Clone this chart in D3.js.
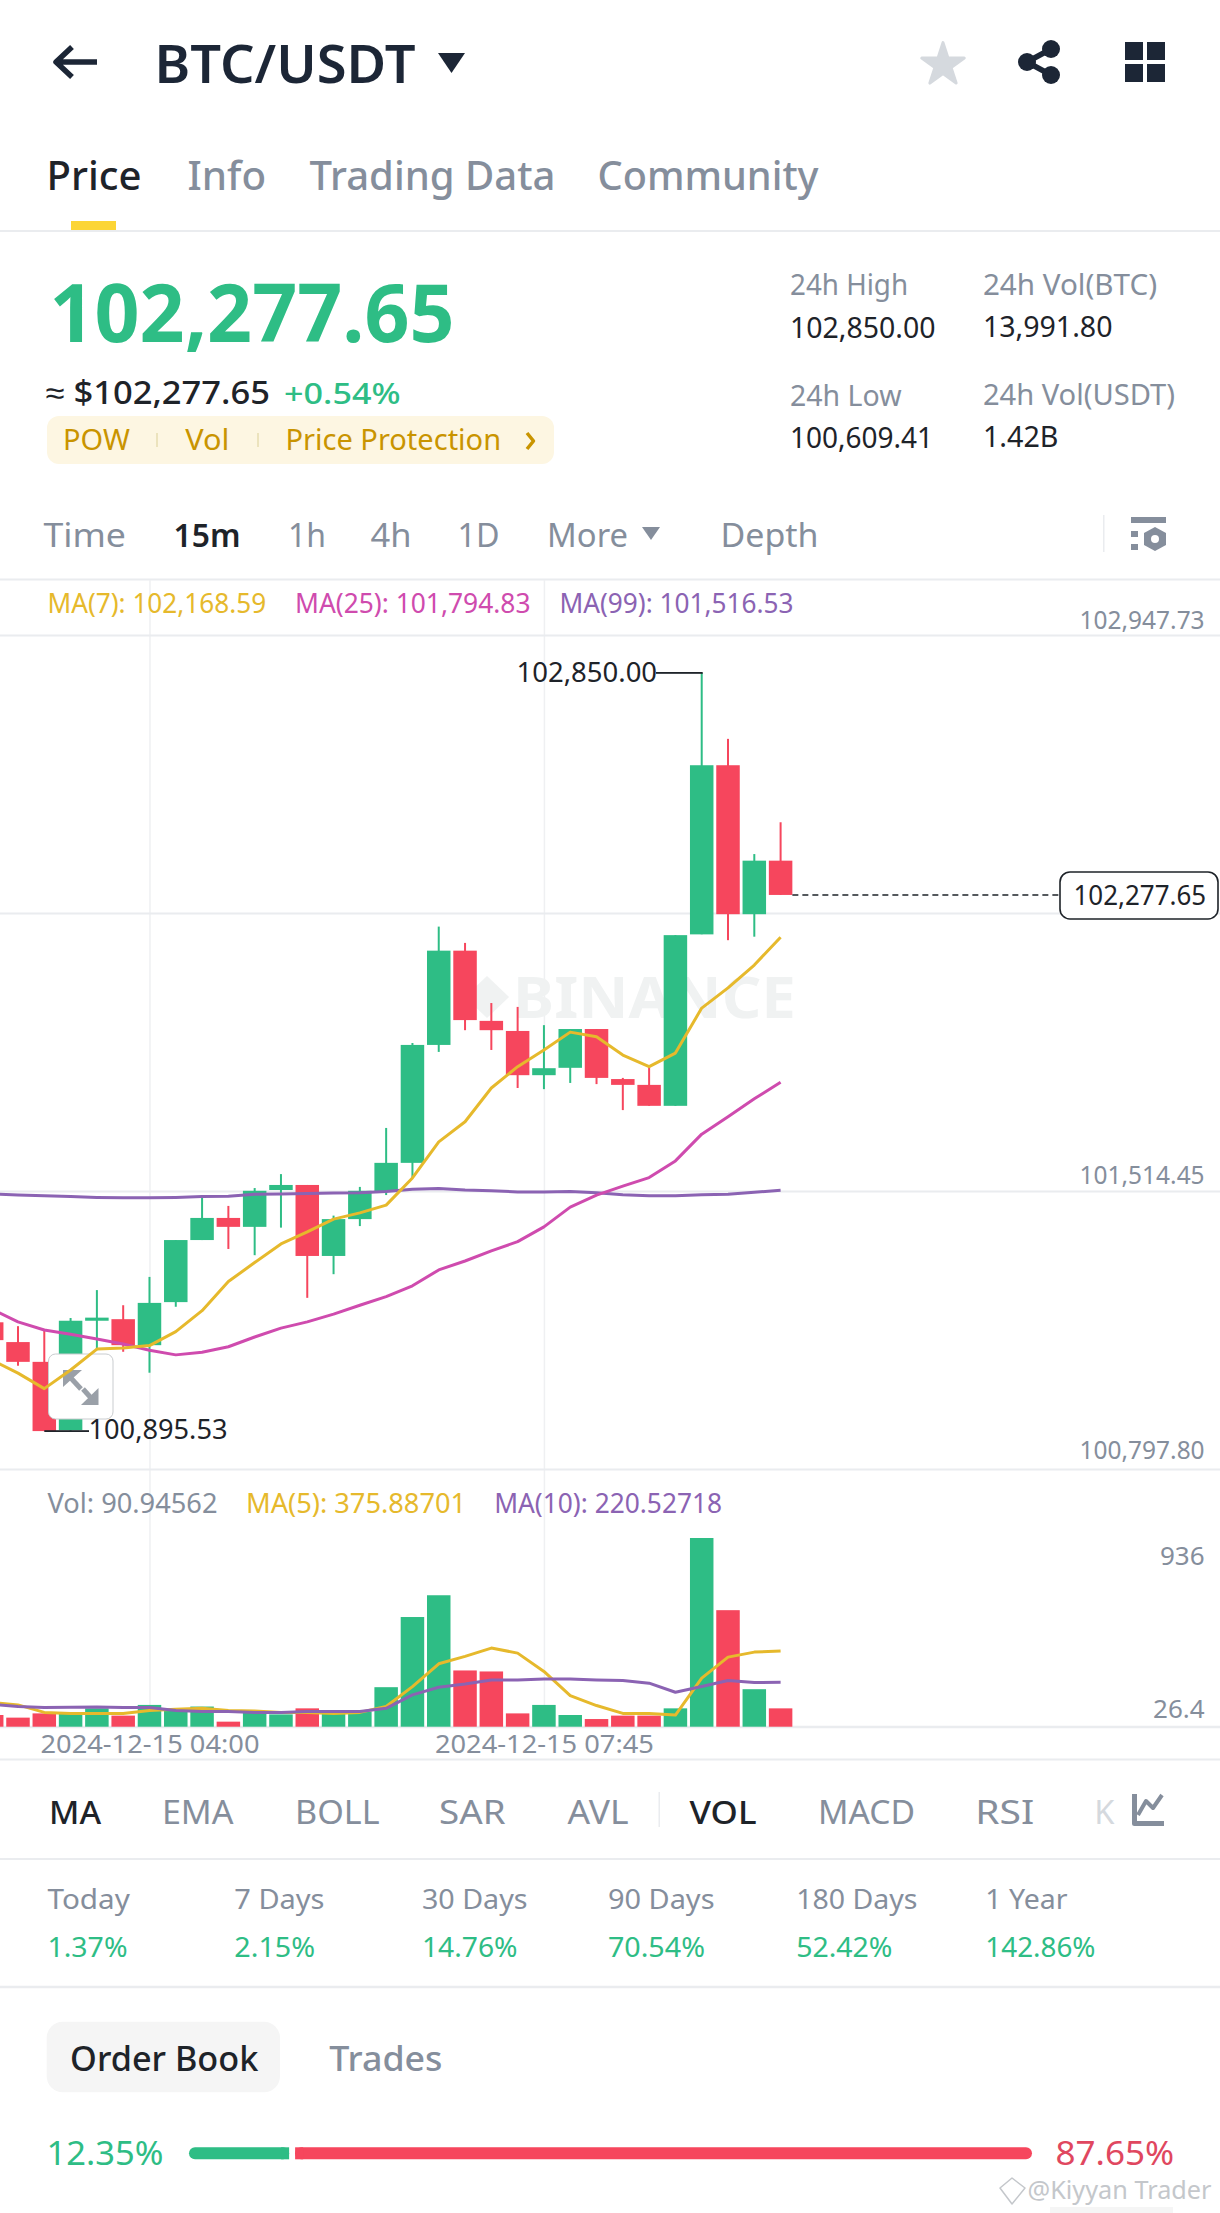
<!DOCTYPE html>
<html>
<head>
<meta charset="utf-8">
<title>BTC/USDT</title>
<script src="https://cdn.jsdelivr.net/npm/d3@7"></script>
<style>
  html, body { margin: 0; padding: 0; background: #fff; }
  svg { display: block; }
  text { font-family: "Noto Sans", sans-serif; }
</style>
</head>
<body>
<svg id="chart" width="1220" height="2213"></svg>
<script>
// 15m candles, first one is cut by the left edge
var times = ['02:30', '02:45', '03:00', '03:15', '03:30', '03:45', '04:00', '04:15', '04:30', '04:45', '05:00',
  '05:15', '05:30', '05:45', '06:00', '06:15', '06:30', '06:45', '07:00', '07:15', '07:30', '07:45', '08:00',
  '08:15', '08:30', '08:45', '09:00', '09:15', '09:30', '09:45', '10:00'].map(function (t) { return '2024-12-15 ' + t; });
var opens = [101176, 101125, 101074, 100898, 101180, 101184, 101117, 101228, 101388, 101445, 101422, 101517, 101530,
  101347, 101442, 101512, 101587, 101891, 102134, 101953, 101927, 101813, 101832, 101932, 101803, 101788, 101734,
  102176, 102612, 102228, 102366];
var highs = [101200, 101166, 101159, 101187, 101259, 101220, 101293, 101388, 101500, 101476, 101522, 101558, 101530,
  101451, 101525, 101677, 101896, 102196, 102154, 101999, 101989, 101942, 101932, 101932, 101806, 101835, 102174,
  102850, 102680, 102383, 102465];
var lows = [101120, 101064, 100895.53, 100896, 101104, 101100, 101046, 101216, 101388, 101365, 101349, 101420, 101239,
  101300, 101424, 101504, 101548, 101873, 101929, 101878, 101780, 101777, 101793, 101790, 101723, 101734, 101734,
  102176, 102161, 102170, 102277.65];
var closes = [101130, 101074, 100895.53, 101180, 101188, 101117, 101226, 101388, 101445, 101422, 101515, 101530, 101347,
  101442, 101515, 101587, 101891, 102134, 101955, 101929, 101813, 101831, 101932, 101806, 101788, 101734, 102174,
  102612, 102228, 102366, 102277.65];

var ma7 = [101079, 101045, 101005, 101053, 101107, 101110, 101116, 101152, 101206, 101281, 101330, 101378, 101409,
  101442, 101458, 101478, 101548, 101641, 101693, 101780, 101835, 101878, 101924, 101912, 101865, 101835, 101870,
  101986, 102038, 102097, 102168.59];
var ma25 = [101210, 101177, 101156, 101145, 101133, 101120, 101104, 101092, 101099, 101113, 101138, 101161, 101177,
  101197, 101220, 101242, 101270, 101311, 101334, 101360, 101384, 101422, 101473, 101504, 101527, 101549, 101592,
  101661, 101706, 101752, 101794.83];
var ma99 = [101507, 101504, 101502, 101500, 101498, 101497, 101497, 101498, 101500, 101501, 101506, 101507, 101508,
  101509, 101510, 101513, 101519, 101521, 101517, 101515, 101512, 101512, 101513, 101510, 101505, 101502, 101502,
  101505, 101506, 101511, 101516.53];

var volumes = [58, 45, 66, 71, 91, 55, 108, 80, 100, 25, 75, 61, 91, 71, 75, 196, 544, 652, 279, 274, 66, 108, 58, 38,
  55, 55, 91, 936, 578, 186, 90.94562];
var volMa5 = [121, 108, 71, 66, 66, 66, 80, 86, 91, 80, 78, 71, 71, 66, 71, 100, 199, 312, 349, 390, 365, 274, 154, 105,
  66, 66, 58, 241, 345, 370, 375.88701];
var volMa10 = [111, 100, 95, 96, 98, 95, 95, 80, 75, 75, 71, 71, 75, 75, 75, 91, 158, 196, 212, 232, 232, 236, 236, 232,
  229, 216, 171, 199, 229, 219, 220.52718];

var priceTicks = [102947.73, 102231.09, 101514.45, 100797.80];
var volTicks = [936, 26.4];
var timeTicks = ['2024-12-15 04:00', '2024-12-15 07:45'];
var lastPrice = 102277.65;
var bookBuy = 12.35;

var periodNames = ['Today', '7 Days', '30 Days', '90 Days', '180 Days', '1 Year'];
var periodValues = ['1.37%', '2.15%', '14.76%', '70.54%', '52.42%', '142.86%'];

var GREEN = '#2ebd85', RED = '#f6465d', DARK = '#1e2329', NAVY = '#1c2636', GREY = '#858e9c', GRID = '#eff0f2';
var YELLOW = '#e6b92c', PINK = '#cf4bae', PURPLE = '#8b63b3';

var svg = d3.select('#chart');

var x = d3.scalePoint().domain(times).range([-8.3, 780.6]);
var y = d3.scaleLinear().domain([priceTicks[3], priceTicks[0]]).range([1469, 635]);
var yVol = d3.scaleLinear().domain([0, 936]).range([1726.7, 1538]);

var BODY = 23.5;

// x1, x2 - ink edges of the text, baseline is yy
function label(txt, x1, x2, yy, size, color, weight) {
  return svg.append('text').text(txt)
    .attr('x', x1 - 1.5).attr('y', yy)
    .attr('font-size', size)
    .attr('font-weight', weight || 400)
    .attr('fill', color)
    .attr('textLength', x2 - x1 + 3)
    .attr('lengthAdjust', 'spacingAndGlyphs');
}

function hline(yy, x1, x2, w, color) {
  svg.append('rect').attr('x', x1).attr('y', yy - w / 2).attr('width', x2 - x1).attr('height', w).attr('fill', color || '#eaecef');
}

function icon(d, stroke, w, fill) {
  return svg.append('path').attr('d', d)
    .attr('fill', fill || 'none')
    .attr('stroke', stroke || 'none')
    .attr('stroke-width', w || 0)
    .attr('stroke-linecap', 'butt')
    .attr('stroke-linejoin', 'round');
}

/* --- header --- */
icon('M97 62H58M72 47L56 62L72 77', NAVY, 5.5);
label('BTC/USDT', 156, 414, 83, 52, NAVY, 600);
icon('M438 53H465L451.5 73Z', null, 0, NAVY);
svg.append('path').attr('d', d3.symbol().type(d3.symbolStar).size(560)())
  .attr('transform', 'translate(943,65)').attr('fill', '#d5d9de')
  .attr('stroke', '#d5d9de').attr('stroke-width', 3).attr('stroke-linejoin', 'round');
icon('M1051 49L1027 62L1051 75', NAVY, 5.5);
[[1051, 49], [1027, 62], [1051, 75]].forEach(function (c) {
  svg.append('circle').attr('cx', c[0]).attr('cy', c[1]).attr('r', 9).attr('fill', NAVY);
});
[[1125, 42], [1147, 42], [1125, 64], [1147, 64]].forEach(function (c) {
  svg.append('rect').attr('x', c[0]).attr('y', c[1]).attr('width', 18).attr('height', 18).attr('fill', NAVY);
});

label('Price', 48, 140, 190, 40, DARK, 500);
label('Info', 189, 264.6, 190, 40, GREY, 500);
label('Trading Data', 311, 554, 190, 40, GREY, 500);
label('Community', 599, 817, 190, 40, GREY, 500);
svg.append('rect').attr('x', 71).attr('y', 221).attr('width', 45).attr('height', 9).attr('fill', '#fcd535');
hline(231, 0, 1220, 2);

/* --- ticker --- */
label('102,277.65', 51, 453, 341.7, 80, GREEN, 700);
label('≈ $102,277.65', 47, 268.5, 404, 32, DARK, 500);
label('+0.54%', 285.6, 399, 404, 29, GREEN, 500);
svg.append('rect').attr('x', 47).attr('y', 416).attr('width', 507).attr('height', 48).attr('rx', 12).attr('fill', '#fdf6e2');
label('POW', 64.6, 128.4, 450, 29, '#c99400');
label('Vol', 186.8, 228, 450, 29, '#c99400');
label('Price Protection', 287, 499.6, 450, 29, '#c99400');
hline(440, 156, 158, 14, '#ece3bd');
hline(440, 257, 259, 14, '#ece3bd');
icon('M527 433L533.5 441L527 449', '#c99400', 3.5);

label('24h High', 791.5, 906.6, 295, 29, GREY);
label('102,850.00', 791.5, 934, 338, 29, DARK);
label('24h Vol(BTC)', 984.4, 1155.6, 295, 29, GREY);
label('13,991.80', 984.4, 1111, 336.7, 29, DARK);
label('24h Low', 791.5, 900, 405.7, 29, GREY);
label('100,609.41', 791.5, 931.5, 448, 29, DARK);
label('24h Vol(USDT)', 984.4, 1173.5, 405, 29, GREY);
label('1.42B', 984.4, 1057, 446.7, 29, DARK);

/* --- interval row --- */
label('Time', 45, 124.5, 547.3, 33, GREY);
label('15m', 175, 239, 547.3, 33, DARK, 600);
label('1h', 289.5, 324.5, 547.3, 33, GREY);
label('4h', 372, 410, 547.3, 33, GREY);
label('1D', 459, 498, 547.3, 33, GREY);
label('More', 548.6, 626.5, 547.3, 33, GREY);
icon('M642 527H660L651 540Z', null, 0, GREY);
label('Depth', 722, 817, 547.3, 33, GREY);
svg.append('rect').attr('x', 1103).attr('y', 515).attr('width', 1.5).attr('height', 37).attr('fill', '#eaecef');
svg.append('rect').attr('x', 1131).attr('y', 517).attr('width', 35).attr('height', 6).attr('fill', GREY);
svg.append('rect').attr('x', 1131).attr('y', 531).attr('width', 7).attr('height', 6).attr('fill', GREY);
svg.append('rect').attr('x', 1131).attr('y', 544).attr('width', 7).attr('height', 6).attr('fill', GREY);
icon('M1155 527L1166 533V545L1155 551L1144 545V533Z', null, 0, GREY);
svg.append('circle').attr('cx', 1155).attr('cy', 539).attr('r', 4).attr('fill', '#fff');
hline(579.5, 0, 1220, 2);

/* --- grid, axes --- */
var gridX = svg.append('g').attr('transform', 'translate(0,580)')
  .call(d3.axisBottom(x).tickValues(timeTicks).tickSize(1146.7).tickFormat(''));
gridX.select('.domain').remove();
gridX.selectAll('line').attr('stroke', GRID).attr('stroke-width', 1.5);

var axisPrice = svg.append('g').attr('transform', 'translate(1220,0)')
  .call(d3.axisLeft(y).tickValues(priceTicks).tickSize(1220).tickFormat(function (d) {
    return d === priceTicks[1] ? '' : d3.format(',.2f')(d);
  }));
axisPrice.select('.domain').remove();
axisPrice.selectAll('line').attr('stroke', '#eaecef').attr('stroke-width', 2);
axisPrice.selectAll('text')
  .attr('x', -15.4).attr('dy', 0)
  .attr('y', function (d) { return d === priceTicks[3] ? -11 : -7; })
  .attr('text-anchor', 'end').attr('font-size', 25).attr('fill', GREY)
  .attr('textLength', 125).attr('lengthAdjust', 'spacingAndGlyphs');

/* watermark goes under the candles */
icon('M487 976L509 997L487 1018L465 997Z', null, 0, '#f0f2f2');
svg.append('text').text('BINANCE').attr('x', 513).attr('y', 1018)
  .attr('font-size', 58).attr('font-weight', 700).attr('fill', '#f0f2f2')
  .attr('textLength', 283).attr('lengthAdjust', 'spacingAndGlyphs');

/* --- candles --- */
var candles = d3.range(times.length).map(function (i) {
  return { t: times[i], o: opens[i], h: highs[i], l: lows[i], c: closes[i], v: volumes[i] };
});
function tone(d) { return d.c >= d.o ? GREEN : RED; }

svg.append('g').selectAll('line').data(candles).join('line')
  .attr('x1', function (d) { return x(d.t); })
  .attr('x2', function (d) { return x(d.t); })
  .attr('y1', function (d) { return y(d.h); })
  .attr('y2', function (d) { return y(d.l); })
  .attr('stroke', tone).attr('stroke-width', 2);
svg.append('g').selectAll('rect').data(candles).join('rect')
  .attr('x', function (d) { return x(d.t) - BODY / 2; })
  .attr('width', BODY)
  .attr('y', function (d) { return y(Math.max(d.o, d.c)); })
  .attr('height', function (d) { return Math.max(3, Math.abs(y(d.o) - y(d.c))); })
  .attr('fill', tone);

/* expand button sits over candles, lines go over it */
svg.append('rect').attr('x', 48.5).attr('y', 1354).attr('width', 64.5).attr('height', 65).attr('rx', 7)
  .attr('fill', '#fff').attr('stroke', '#c9cccf').attr('stroke-width', 1);
icon('M63 1370H82L63 1387Z', null, 0, '#9aa0a8');
icon('M69 1376L81 1389', '#9aa0a8', 5);
icon('M98.5 1405H81L98.5 1388Z', null, 0, '#9aa0a8');
icon('M92 1399L83 1389', '#9aa0a8', 5);

function drawLine(values, scale, color, w) {
  var gen = d3.line()
    .x(function (d, i) { return x(times[i]); })
    .y(function (d) { return scale(d); });
  svg.append('path').attr('d', gen(values))
    .attr('fill', 'none').attr('stroke', color).attr('stroke-width', w).attr('stroke-linejoin', 'round');
}
drawLine(ma99, y, PURPLE, 3);
drawLine(ma25, y, PINK, 3);
drawLine(ma7, y, YELLOW, 3);

label('MA(7): 102,168.59', 49, 264.6, 613.3, 27, YELLOW);
label('MA(25): 101,794.83', 296.5, 529, 613.3, 27, PINK);
label('MA(99): 101,516.53', 561, 792, 613.3, 27, PURPLE);

/* high / low marks */
var hi = candles[27], lo = candles[2];
hline(y(hi.h), 656, x(hi.t) + 1, 1.8, DARK);
label('102,850.00', 518, 655.6, 681.7, 27, DARK);
hline(y(lo.l), x(lo.t), 89, 1.8, DARK);
label('100,895.53', 90, 226, 1439, 27, DARK);

/* last price */
svg.append('line').attr('x1', x(times[30]) + BODY / 2).attr('x2', 1059)
  .attr('y1', y(lastPrice)).attr('y2', y(lastPrice))
  .attr('stroke', DARK).attr('stroke-width', 1.5).attr('stroke-dasharray', '6 4');
svg.append('rect').attr('x', 1060).attr('y', y(lastPrice) - 23).attr('width', 158).attr('height', 47).attr('rx', 10)
  .attr('fill', '#fff').attr('stroke', DARK).attr('stroke-width', 1.6);
label('102,277.65', 1075, 1204.6, y(lastPrice) + 10.5, 27, DARK);

/* --- volume panel --- */
label('Vol: 90.94562', 49, 216, 1513, 27, GREY);
label('MA(5): 375.88701', 247.5, 464.6, 1513, 27, YELLOW);
label('MA(10): 220.52718', 495.7, 720.6, 1513, 27, PURPLE);

hline(1727, 0, 1220, 2.5);
svg.append('g').selectAll('rect').data(candles).join('rect')
  .attr('x', function (d) { return x(d.t) - BODY / 2; })
  .attr('width', BODY)
  .attr('y', function (d) { return yVol(d.v); })
  .attr('height', function (d) { return yVol(0) - yVol(d.v); })
  .attr('fill', tone);
drawLine(volMa5, yVol, YELLOW, 3);
drawLine(volMa10, yVol, PURPLE, 3);

var axisVol = svg.append('g').attr('transform', 'translate(1204.6,0)')
  .call(d3.axisLeft(yVol).tickValues(volTicks).tickSize(0).tickPadding(0).tickFormat(String));
axisVol.select('.domain').remove();
axisVol.selectAll('text').attr('dy', 0)
  .attr('y', function (d) { return d === 936 ? 26 : -4; })
  .attr('text-anchor', 'end').attr('font-size', 26).attr('fill', GREY);

var axisTime = svg.append('g').attr('transform', 'translate(0,1733)')
  .call(d3.axisBottom(x).tickValues(timeTicks).tickSize(0).tickPadding(0));
axisTime.select('.domain').remove();
axisTime.selectAll('text').attr('y', 19.7).attr('dy', 0)
  .attr('font-size', 26).attr('fill', GREY).attr('text-anchor', 'middle')
  .attr('textLength', 219).attr('lengthAdjust', 'spacingAndGlyphs');
hline(1759.5, 0, 1220, 2);

/* --- indicator row --- */
label('MA', 50.6, 99.6, 1824, 33, DARK, 500);
label('EMA', 163.4, 232, 1824, 33, GREY);
label('BOLL', 296.5, 378, 1824, 33, GREY);
label('SAR', 440.5, 504, 1824, 33, GREY);
label('AVL', 569, 627, 1824, 33, GREY);
svg.append('rect').attr('x', 658.5).attr('y', 1792).attr('width', 1.5).attr('height', 35).attr('fill', '#eaecef');
label('VOL', 691, 755, 1824, 33, DARK, 500);
label('MACD', 819.5, 913.6, 1824, 33, GREY);
label('RSI', 976.7, 1032.7, 1824, 33, GREY);
label('K', 1095.8, 1113, 1824, 33, '#d5d9de');
icon('M1134.5 1794V1823.5H1164', GREY, 5);
icon('M1138 1815L1146 1801L1153 1808L1162 1795', GREY, 4);
hline(1859, 0, 1220, 2);

/* --- period performance --- */
var periodStart = [49, 235.8, 423.4, 609.4, 797.7, 986.8];
var periodEnd = [128.4, 323, 526, 713, 916, 1066];
var valueEnd = [126, 313.6, 516, 703.5, 891, 1094];
periodNames.forEach(function (n, i) {
  label(n, periodStart[i], periodEnd[i], 1909, 28, GREY);
  label(periodValues[i], periodStart[i], valueEnd[i], 1957, 28, GREEN);
});
hline(1987, 0, 1220, 2.5);

/* --- order book --- */
svg.append('rect').attr('x', 46.7).attr('y', 2021.7).attr('width', 233.3).attr('height', 70.6).attr('rx', 16).attr('fill', '#f5f5f5');
label('Order Book', 71.6, 256.8, 2070.7, 34, DARK, 500);
label('Trades', 330.7, 441, 2070.7, 34, GREY, 500);

var book = d3.scaleLinear().domain([0, 100]).range([189, 1032]);
var split = book(bookBuy) - 1;
label('12.35%', 48, 162, 2165, 32, GREEN);
svg.append('rect').attr('x', book(0)).attr('y', 2147.3).attr('width', split - 3 - book(0)).attr('height', 12).attr('rx', 6).attr('fill', GREEN);
svg.append('rect').attr('x', split - 11).attr('y', 2147.3).attr('width', 8).attr('height', 12).attr('fill', GREEN);
svg.append('rect').attr('x', split + 3).attr('y', 2147.3).attr('width', book(100) - split - 3).attr('height', 12).attr('rx', 6).attr('fill', RED);
svg.append('rect').attr('x', split + 3).attr('y', 2147.3).attr('width', 8).attr('height', 12).attr('fill', RED);
label('87.65%', 1057, 1172.7, 2165, 32, '#e0475f');

/* --- corner watermark --- */
icon('M1000 2188L1012 2178L1025 2188L1012 2204Z', '#c4c7cb', 1.5);
label('@Kiyyan Trader', 1029, 1210, 2199, 25, '#c4c7cb');
svg.append('rect').attr('x', 1050).attr('y', 2207).attr('width', 123).attr('height', 6).attr('fill', '#f5f5f5');
</script>
</body>
</html>
